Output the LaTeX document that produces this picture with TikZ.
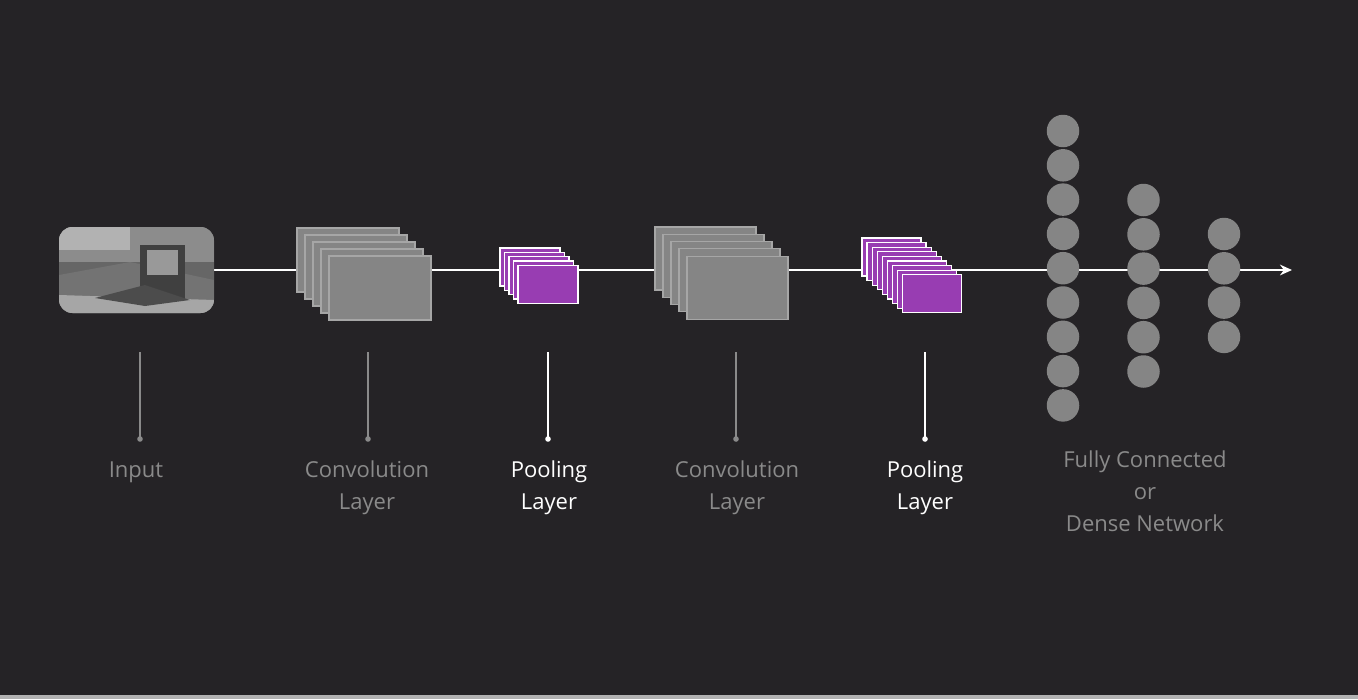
\documentclass[tikz,border=0pt]{standalone}
\usepackage{fontspec}
\setmainfont{Open Sans}
\usetikzlibrary{arrows.meta}
\definecolor{bg}{HTML}{252326}
\definecolor{cg}{HTML}{858585}
\definecolor{pp}{HTML}{983DB2}
\definecolor{lbl}{HTML}{8A8A8A}
\tikzset{
 conv/.style={fill=cg,draw=gray!70,line width=0.8pt},
 pool/.style={fill=pp,draw=white,line width=1pt},
 neuron/.style={circle,fill=cg,minimum size=32.5*0.75pt,inner sep=0pt},
 lab/.style={font=\fontsize{16.5}{24}\selectfont,align=center},
 lead/.style={line width=0.8pt},
}
\begin{document}
\begin{tikzpicture}[x=0.75pt,y=-0.75pt]
\fill[bg] (0,0) rectangle (1358,699);
\fill[gray!60] (0,695) rectangle (1358,699);
% main line
\coordinate (start) at (214,270);
\coordinate (end) at (1292,270);
\draw[white,line width=1.5pt,-{Stealth[length=9pt,width=8pt]}] (start) -- (end);
% input
\node[fill=black!60,rounded corners=10pt,minimum width=155*0.75pt,minimum height=86*0.75pt,inner sep=0pt] (in) at (136.5,270) {};
\begin{scope}
\clip[rounded corners=10pt] (59,227) rectangle (214,313);
\fill[black!45] (59,227) rectangle (214,262);
\fill[black!30] (59,227) rectangle (130,250);
\fill[black!55] (59,275) -- (130,262) -- (214,280) -- (214,313) -- (59,313) -- cycle;
\fill[black!35] (59,295) -- (214,300) -- (214,313) -- (59,313) -- cycle;
\fill[black!75] (140,245) rectangle (185,300);
\fill[black!40] (147,250) rectangle (178,275);
\fill[black!70] (95,298) -- (145,285) -- (190,300) -- (145,306) -- cycle;
\end{scope}
% conv 1
\foreach \i in {0,...,4}{\draw[conv] (297+8*\i,228+7*\i) rectangle ++(102,64);}
% pool 1
\foreach \i in {0,...,4}{\draw[pool] (500+4.5*\i,248+4.3*\i) rectangle ++(60,38);}
% conv 2
\foreach \i in {0,...,4}{\draw[conv] (655+8*\i,227+7.3*\i) rectangle ++(101,63);}
% pool 2
\foreach \i in {0,...,8}{\draw[pool] (862+5.1*\i,238+4.6*\i) rectangle ++(59,38);}
% dense
\foreach \i in {0,...,8}{\node[neuron] (a\i) at (1063,131+34.3*\i) {};}
\foreach \i in {0,...,5}{\node[neuron] (b\i) at (1143.5,200+34.3*\i) {};}
\foreach \i in {0,...,3}{\node[neuron] (c\i) at (1224,234+34.3*\i) {};}
% leaders
\foreach \x/\c/\n in {140/lbl/l1,368/lbl/l2,548/white/l3,736/lbl/l4,925/white/l5}{
 \coordinate (\n t) at (\x,352); \coordinate (\n b) at (\x,439);
 \draw[lead,\c] (\n t) -- (\n b); \fill[\c] (\n b) circle (2.8);}
% labels
\node[lab,text=lbl] (t1) at (136,472) {Input};
\node[lab,text=lbl] (t2) at (367,488) {Convolution\\Layer};
\node[lab,text=white] (t3) at (549,488) {Pooling\\Layer};
\node[lab,text=lbl] (t4) at (737,488) {Convolution\\Layer};
\node[lab,text=white] (t5) at (925,488) {Pooling\\Layer};
\node[lab,text=lbl] (t6) at (1145,491) {Fully Connected\\or\\Dense Network};
\end{tikzpicture}
\end{document}
